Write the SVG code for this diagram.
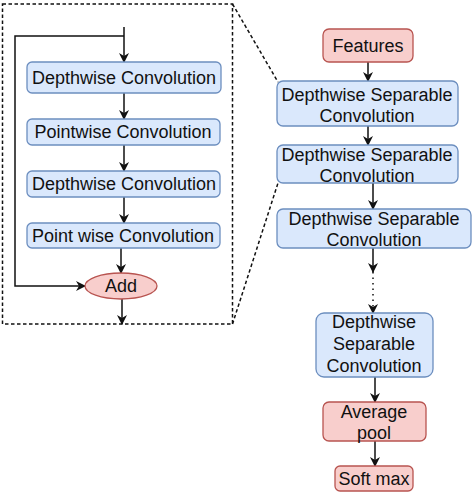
<svg xmlns="http://www.w3.org/2000/svg" width="474" height="494" viewBox="0 0 474 494">
<style>
.blue{fill:#dae8fc;stroke:#6c8ebf;stroke-width:1.3}
.red{fill:#f8cecc;stroke:#b85450;stroke-width:1.3}
.t{font-family:"Liberation Sans",Arial,sans-serif;font-size:18px;fill:#111;text-anchor:middle}
.e{fill:none;stroke:#111;stroke-width:1.5}
.dash{fill:none;stroke:#111;stroke-width:1.5;stroke-dasharray:3.5 2.5}
</style>
<defs>
<marker id="ah" viewBox="0 0 10 10" refX="9" refY="5" markerWidth="10" markerHeight="10" markerUnits="userSpaceOnUse" orient="auto">
<path d="M0,0 L10,5 L0,10 L3,5 z" fill="#111"/>
</marker>
</defs>
<rect width="474" height="494" fill="#fff"/>
<g id="zoom-frame">
<rect x="2.5" y="4" width="230" height="320" class="dash"/>
<line x1="232.5" y1="4" x2="278" y2="82" class="dash"/>
<line x1="232.5" y1="324" x2="278" y2="183" class="dash"/>
</g>
<g id="connectors">
<line x1="124" y1="27" x2="124" y2="62" class="e" marker-end="url(#ah)"/>
<polyline points="124,36 15,36 15,286 85,286" class="e" marker-end="url(#ah)"/>
<line x1="124" y1="93" x2="124" y2="119" class="e" marker-end="url(#ah)"/>
<line x1="124" y1="145" x2="124" y2="171" class="e" marker-end="url(#ah)"/>
<line x1="124" y1="197" x2="124" y2="223" class="e" marker-end="url(#ah)"/>
<line x1="121" y1="248" x2="121" y2="273" class="e" marker-end="url(#ah)"/>
<line x1="122" y1="299" x2="122" y2="324" class="e" marker-end="url(#ah)"/>
<line x1="368" y1="62" x2="368" y2="81" class="e" marker-end="url(#ah)"/>
<line x1="368" y1="126" x2="368" y2="145" class="e" marker-end="url(#ah)"/>
<line x1="373" y1="183" x2="373" y2="209" class="e" marker-end="url(#ah)"/>
<line x1="373" y1="248" x2="373" y2="272" class="e" marker-end="url(#ah)"/>
<line x1="373" y1="272" x2="373" y2="313" class="e" stroke-dasharray="1.5 4" marker-end="url(#ah)"/>
<line x1="375" y1="377" x2="375" y2="402" class="e" marker-end="url(#ah)"/>
<line x1="375" y1="441" x2="375" y2="466" class="e" marker-end="url(#ah)"/>
</g>
<g id="dw1"><rect x="27" y="62" width="194" height="31" rx="5" class="blue"/><text x="124" y="84" class="t">Depthwise Convolution</text></g>
<g id="pw1"><rect x="27" y="119" width="193" height="26" rx="5" class="blue"/><text x="123" y="138" class="t">Pointwise Convolution</text></g>
<g id="dw2"><rect x="27" y="171" width="193" height="26" rx="5" class="blue"/><text x="124" y="190" class="t">Depthwise Convolution</text></g>
<g id="pw2"><rect x="27" y="223" width="193" height="25" rx="5" class="blue"/><text x="123" y="242" class="t">Point wise Convolution</text></g>
<g id="add"><ellipse cx="121" cy="286" rx="36" ry="13" class="red"/><text x="121" y="292" class="t">Add</text></g>
<g id="features"><rect x="323" y="29" width="90" height="33" rx="6" class="red"/><text x="368" y="52" class="t">Features</text></g>
<g id="dsc1"><rect x="277" y="81" width="181" height="45" rx="6" class="blue"/><text x="367" y="101" class="t">Depthwise Separable</text><text x="367" y="122" class="t">Convolution</text></g>
<g id="dsc2"><rect x="277" y="145" width="181" height="38" rx="6" class="blue"/><text x="367" y="161" class="t">Depthwise Separable</text><text x="367" y="182" class="t">Convolution</text></g>
<g id="dsc3"><rect x="277" y="209" width="194" height="39" rx="6" class="blue"/><text x="374" y="225" class="t">Depthwise Separable</text><text x="374" y="246" class="t">Convolution</text></g>
<g id="dsc4"><rect x="316" y="313" width="117" height="64" rx="8" class="blue"/><text x="374" y="328" class="t">Depthwise</text><text x="374" y="350" class="t">Separable</text><text x="374" y="372" class="t">Convolution</text></g>
<g id="avgpool"><rect x="323" y="402" width="103" height="39" rx="6" class="red"/><text x="374" y="418" class="t">Average</text><text x="374" y="439" class="t">pool</text></g>
<g id="softmax"><rect x="335" y="466" width="78" height="25" rx="5" class="red"/><text x="374" y="485" class="t">Soft max</text></g>
</svg>
